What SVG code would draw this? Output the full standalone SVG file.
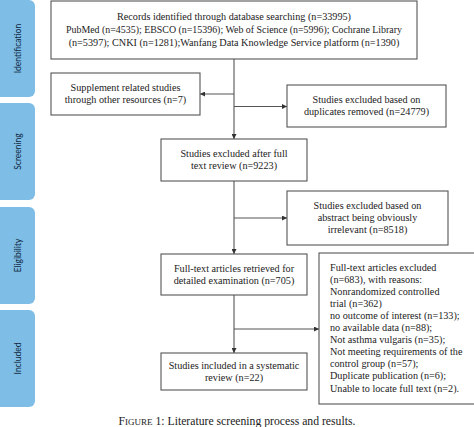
<svg xmlns="http://www.w3.org/2000/svg" width="474" height="427" viewBox="0 0 474 427">
<style>
.tab{fill:#7dbde6}
.tl{font-family:Lato,"Open Sans",sans-serif;font-size:8.5px;fill:#10283f;text-anchor:middle}
.box{fill:#fff;stroke:#555;stroke-width:1.1}
.t{font-family:"Liberation Serif",serif;font-size:10.2px;fill:#222;text-anchor:middle}
.tx{font-family:"Liberation Serif",serif;font-size:10.2px;fill:#222}
.c{stroke:#555;stroke-width:1.1;fill:none}
.cap{font-family:"Liberation Serif",serif;font-size:11.7px;fill:#222;text-anchor:middle}
</style>
<defs>
<marker id="ah" viewBox="0 0 6 6" refX="6" refY="3" markerWidth="5" markerHeight="5" orient="auto" markerUnits="userSpaceOnUse">
<path d="M0,0 L6,3 L0,6 z" fill="#333"/>
</marker>
</defs>
<rect width="474" height="427" fill="#fff"/>
<g id="tab-identification"><rect class="tab" x="-10" y="0" width="45" height="97" rx="6"/><text class="tl" transform="translate(21,48.5) rotate(-90)">Identification</text></g>
<g id="tab-screening"><rect class="tab" x="-10" y="103" width="45" height="97" rx="6"/><text class="tl" transform="translate(21,151.5) rotate(-90)">Screening</text></g>
<g id="tab-eligibility"><rect class="tab" x="-10" y="207" width="45" height="97" rx="6"/><text class="tl" transform="translate(21,255.5) rotate(-90)">Eligibility</text></g>
<g id="tab-included"><rect class="tab" x="-10" y="310" width="45" height="97" rx="6"/><text class="tl" transform="translate(21,358.5) rotate(-90)">Included</text></g>

<g id="connectors">
<path class="c" d="M234,59 V139" marker-end="url(#ah)"/>
<path class="c" d="M234,94 H200" marker-end="url(#ah)"/>
<path class="c" d="M234,106.5 H287" marker-end="url(#ah)"/>
<path class="c" d="M234,181 V254" marker-end="url(#ah)"/>
<path class="c" d="M234,218 H287" marker-end="url(#ah)"/>
<path class="c" d="M234,295 V353" marker-end="url(#ah)"/>
<path class="c" d="M234,329 H319" marker-end="url(#ah)"/>
</g>

<g id="records">
<rect class="box" x="51" y="1" width="366" height="58"/>
<text class="t" x="234" y="19.5">Records identified through database searching (n=33995)</text>
<text class="t" x="234" y="33" textLength="336" lengthAdjust="spacingAndGlyphs">PubMed (n=4535); EBSCO (n=15396); Web of Science (n=5996); Cochrane Library</text>
<text class="t" x="234" y="46">(n=5397); CNKI (n=1281);Wanfang Data Knowledge Service platform (n=1390)</text>
</g>
<g id="supplement">
<rect class="box" x="51" y="73" width="149" height="42"/>
<text class="t" x="125.5" y="91">Supplement related studies</text>
<text class="t" x="125.5" y="103">through other resources (n=7)</text>
</g>
<g id="duplicates">
<rect class="box" x="287" y="85" width="159" height="42"/>
<text class="t" x="366.5" y="103">Studies excluded based on</text>
<text class="t" x="366.5" y="115">duplicates removed (n=24779)</text>
</g>
<g id="fulltext-review">
<rect class="box" x="161" y="139" width="146" height="42"/>
<text class="t" x="234" y="156.5">Studies excluded after full</text>
<text class="t" x="234" y="168.5">text review (n=9223)</text>
</g>
<g id="abstract">
<rect class="box" x="287" y="191" width="161" height="54"/>
<text class="t" x="367.5" y="209">Studies excluded based on</text>
<text class="t" x="367.5" y="221">abstract being obviously</text>
<text class="t" x="367.5" y="233">irrelevant (n=8518)</text>
</g>
<g id="retrieved">
<rect class="box" x="161" y="254" width="146" height="41"/>
<text class="t" x="234" y="271.5">Full-text articles retrieved for</text>
<text class="t" x="234" y="283.5">detailed examination (n=705)</text>
</g>
<g id="excluded">
<rect class="box" x="319" y="253" width="160" height="151"/>
<text class="tx" x="330" y="270.5">Full-text articles excluded</text>
<text class="tx" x="330" y="282.6">(n=683), with reasons:</text>
<text class="tx" x="330" y="294.7">Nonrandomized controlled</text>
<text class="tx" x="330" y="306.8">trial (n=362)</text>
<text class="tx" x="330" y="318.9">no outcome of interest (n=133);</text>
<text class="tx" x="330" y="331">no available data (n=88);</text>
<text class="tx" x="330" y="343.1">Not asthma vulgaris (n=35);</text>
<text class="tx" x="330" y="355.2">Not meeting requirements of the</text>
<text class="tx" x="330" y="367.3">control group (n=57);</text>
<text class="tx" x="330" y="379.4">Duplicate publication (n=6);</text>
<text class="tx" x="330" y="391.5">Unable to locate full text (n=2).</text>
</g>
<g id="included">
<rect class="box" x="161" y="353" width="146" height="37"/>
<text class="t" x="234" y="369">Studies included in a systematic</text>
<text class="t" x="234" y="381">review (n=22)</text>
</g>
<text class="cap" x="237" y="425"><tspan>F</tspan><tspan font-size="9px">IGURE</tspan> 1: Literature screening process and results.</text>
</svg>
